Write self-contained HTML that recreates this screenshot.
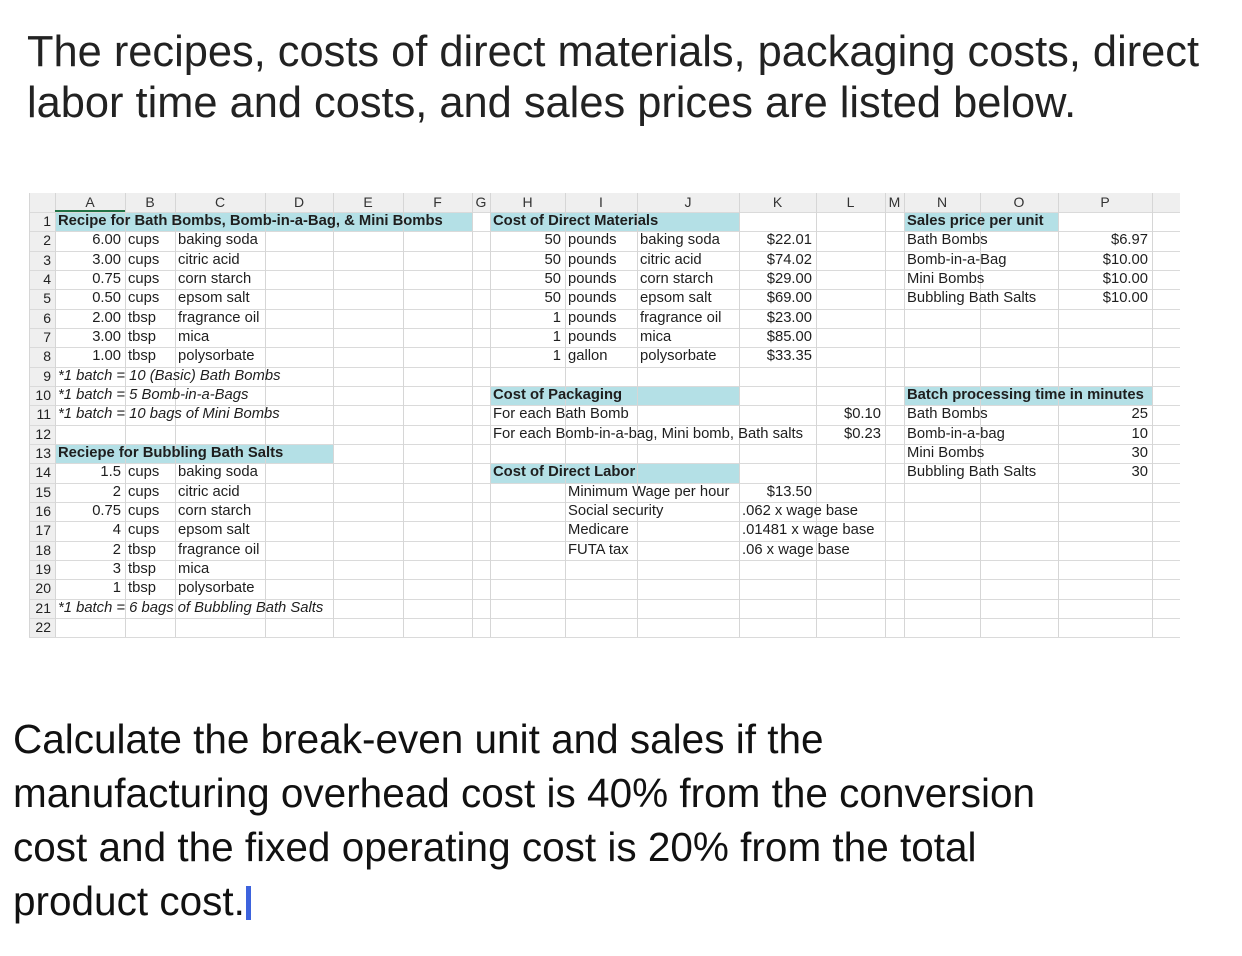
<!DOCTYPE html>
<html><head><meta charset="utf-8">
<style>
body{margin:0;width:1242px;height:956px;background:#fff;position:relative;overflow:hidden;font-family:"Liberation Sans",Arial,sans-serif;color:#222}
.t{position:absolute;white-space:nowrap}
#title{left:27px;top:27px;font-size:43.4px;line-height:51px;color:#222}
#question{left:13px;top:712px;font-size:40.5px;line-height:54px;color:#111}
#sheet{position:absolute;left:0;top:0;width:1242px;height:956px}
.c{position:absolute;font-size:14.8px;line-height:19px;white-space:nowrap;color:#1e1e1e}
.ln{position:absolute;background:#d4d4d4}
#cursor{display:inline-block;width:5px;height:34px;background:#3d63dd;vertical-align:-5px;margin-left:1px}
</style></head><body>
<div id="title" class="t">The recipes, costs of direct materials, packaging costs, direct<br>labor time and costs, and sales prices are listed below.</div>
<div id="sheet"></div>
<div id="question" class="t">Calculate the break-even unit and sales if the<br>manufacturing overhead cost is 40% from the conversion<br>cost and the fixed operating cost is 20% from the total<br>product cost.<span id="cursor"></span></div>
<script>
const colLetters=["A","B","C","D","E","F","G","H","I","J","K","L","M","N","O","P"];
const colEdges=[55,125,175,265,333,403,472,490,565,637,739,816,885,904,980,1058,1152];
const sheet=document.getElementById('sheet');
const HT=193,RT=212,RH=19.33,NR=22,L0=29,R0=1180;
function rowTop(r){return RT+(r-1)*RH;}
function ci(l){return colLetters.indexOf(l);}
function box(x,y,w,h,bg,name){const d=document.createElement('div');d.className='ln';d.style.cssText=`left:${x}px;top:${y}px;width:${w}px;height:${h}px;background:${bg}`;


sheet.appendChild(d);return d;}
box(L0,HT,R0-L0,RT-HT,'#efefef','column-header-bar');
box(L0,RT,colEdges[0]-L0,NR*RH,'#efefef','row-header-bar');
const fills=[[1,"A","F"],[1,"H","J"],[1,"N","O"],[10,"H","J"],[10,"N","P"],[13,"A","D"],[14,"H","J"]];
fills.forEach(f=>{const x=colEdges[ci(f[1])],x2=colEdges[ci(f[2])+1];box(x,rowTop(f[0])+1,x2-x,RH-1,'#b4e0e6','section-header-fill');});
for(let r=0;r<=NR;r++){box(L0,Math.round(rowTop(r+1)),R0-L0,1,'#dadada','row-line');}
colEdges.forEach(x=>box(x,HT,1,NR*RH+(RT-HT),'#d6d6d6','column-line'));
box(L0,HT,1,NR*RH+(RT-HT),'#d6d6d6','column-line');
colLetters.forEach((l,i)=>{const d=document.createElement('div');d.className='c';d.textContent=l;
d.style.cssText=`left:${colEdges[i]}px;width:${colEdges[i+1]-colEdges[i]}px;top:${HT}px;text-align:center;color:#333;font-size:14px`;


sheet.appendChild(d);});
box(colEdges[0],RT-2,colEdges[1]-colEdges[0],2,'#217346','selected-column-marker');
for(let r=1;r<=NR;r++){const d=document.createElement('div');d.className='c';d.textContent=r;
d.style.cssText=`left:${L0}px;width:${colEdges[0]-L0-4}px;top:${rowTop(r)}px;text-align:right;color:#222;font-size:14px`;


sheet.appendChild(d);}
const cells=[
[1,"A","Recipe for Bath Bombs, Bomb-in-a-Bag, & Mini Bombs","l","b"],
[2,"A","6.00","r"],[2,"B","cups"],[2,"C","baking soda"],
[3,"A","3.00","r"],[3,"B","cups"],[3,"C","citric acid"],
[4,"A","0.75","r"],[4,"B","cups"],[4,"C","corn starch"],
[5,"A","0.50","r"],[5,"B","cups"],[5,"C","epsom salt"],
[6,"A","2.00","r"],[6,"B","tbsp"],[6,"C","fragrance oil"],
[7,"A","3.00","r"],[7,"B","tbsp"],[7,"C","mica"],
[8,"A","1.00","r"],[8,"B","tbsp"],[8,"C","polysorbate"],
[9,"A","*1 batch = 10 (Basic) Bath Bombs","l","i"],
[10,"A","*1 batch = 5 Bomb-in-a-Bags","l","i"],
[11,"A","*1 batch = 10 bags of Mini Bombs","l","i"],
[13,"A","Reciepe for Bubbling Bath Salts","l","b"],
[14,"A","1.5","r"],[14,"B","cups"],[14,"C","baking soda"],
[15,"A","2","r"],[15,"B","cups"],[15,"C","citric acid"],
[16,"A","0.75","r"],[16,"B","cups"],[16,"C","corn starch"],
[17,"A","4","r"],[17,"B","cups"],[17,"C","epsom salt"],
[18,"A","2","r"],[18,"B","tbsp"],[18,"C","fragrance oil"],
[19,"A","3","r"],[19,"B","tbsp"],[19,"C","mica"],
[20,"A","1","r"],[20,"B","tbsp"],[20,"C","polysorbate"],
[21,"A","*1 batch = 6 bags of Bubbling Bath Salts","l","i"],
[1,"H","Cost of Direct Materials","l","b"],
[2,"H","50","r"],[2,"I","pounds"],[2,"J","baking soda"],[2,"K","$22.01","r"],
[3,"H","50","r"],[3,"I","pounds"],[3,"J","citric acid"],[3,"K","$74.02","r"],
[4,"H","50","r"],[4,"I","pounds"],[4,"J","corn starch"],[4,"K","$29.00","r"],
[5,"H","50","r"],[5,"I","pounds"],[5,"J","epsom salt"],[5,"K","$69.00","r"],
[6,"H","1","r"],[6,"I","pounds"],[6,"J","fragrance oil"],[6,"K","$23.00","r"],
[7,"H","1","r"],[7,"I","pounds"],[7,"J","mica"],[7,"K","$85.00","r"],
[8,"H","1","r"],[8,"I","gallon"],[8,"J","polysorbate"],[8,"K","$33.35","r"],
[10,"H","Cost of Packaging","l","b"],
[11,"H","For each Bath Bomb"],[11,"L","$0.10","r"],
[12,"H","For each Bomb-in-a-bag, Mini bomb, Bath salts"],[12,"L","$0.23","r"],
[14,"H","Cost of Direct Labor","l","b"],
[15,"I","Minimum Wage per hour"],[15,"K","$13.50","r"],
[16,"I","Social security"],[16,"K",".062 x wage base"],
[17,"I","Medicare"],[17,"K",".01481 x wage base"],
[18,"I","FUTA tax"],[18,"K",".06 x wage base"],
[1,"N","Sales price per unit","l","b"],
[2,"N","Bath Bombs"],[2,"P","$6.97","r"],
[3,"N","Bomb-in-a-Bag"],[3,"P","$10.00","r"],
[4,"N","Mini Bombs"],[4,"P","$10.00","r"],
[5,"N","Bubbling Bath Salts"],[5,"P","$10.00","r"],
[10,"N","Batch processing time in minutes","l","b"],
[11,"N","Bath Bombs"],[11,"P","25","r"],
[12,"N","Bomb-in-a-bag"],[12,"P","10","r"],
[13,"N","Mini Bombs"],[13,"P","30","r"],
[14,"N","Bubbling Bath Salts"],[14,"P","30","r"]
];
cells.forEach(c=>{const i=ci(c[1]);const x=colEdges[i],x2=colEdges[i+1];const d=document.createElement('div');d.className='c';d.textContent=c[2];
let s=`top:${rowTop(c[0])}px;`;
if(c[3]==="r"){s+=`left:${x}px;width:${x2-x-4}px;text-align:right;`;}else{s+=`left:${x+3}px;`;}
if(c[4]==="b")s+='font-weight:bold;font-size:14.8px;';
if(c[4]==="i")s+='font-style:italic;';
d.style.cssText=s;


sheet.appendChild(d);});
</script>
</body></html>
